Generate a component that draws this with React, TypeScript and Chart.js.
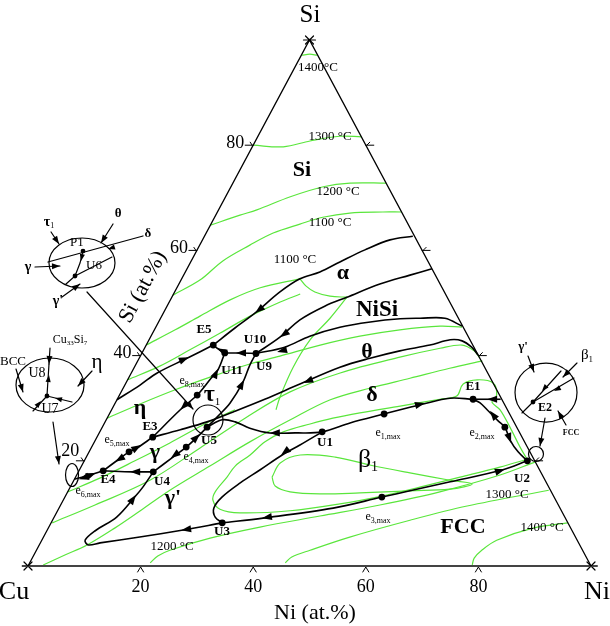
import React, { useEffect, useRef } from "react";
import { Chart, registerables } from "chart.js";

Chart.register(...registerables);

type P = [number, number]; // [Ni at.%, Si at.%]

// ---------- axis ticks ----------
const niTicks = [20, 40, 60, 80];
const siTicks = [20, 40, 60, 80];

// ---------- univariant (black) lines, [Ni, Si] at.% ----------
const alphaLine: P[] = [[37.0, 62.7], [33.3, 62.0], [29.8, 60.1], [26.5, 57.8], [23.9, 55.9], [21.0, 54.6], [18.7, 52.1], [16.3, 48.1], [14.1, 45.2], [11.9, 42.0]];
const niSiAlphaLine: P[] = [[43.5, 56.5], [40.2, 55.3], [35.7, 53.6], [31.1, 51.1], [28.0, 49.4], [24.9, 46.8], [23.0, 43.5], [20.3, 40.4]];
const niSiThetaLine: P[] = [[54.3, 45.6], [50.5, 47.1], [46.1, 47.1], [42.6, 47.0], [37.6, 46.4], [32.7, 45.4], [28.2, 43.7], [24.8, 41.6], [20.3, 40.4]];
const thetaDeltaLine: P[] = [[59.9, 40.1], [58.0, 41.6], [55.7, 42.8], [53.5, 43.0], [50.4, 42.0], [45.6, 40.9], [41.0, 39.5], [36.5, 37.8], [31.0, 34.6], [26.2, 31.7], [21.8, 29.3], [18.1, 27.4], [14.1, 25.9], [9.9, 24.5]];
const deltaBetaLine: P[] = [[18.6, 26.4], [20.6, 27.8], [23.1, 27.4], [26.3, 26.2], [30.3, 25.3], [34.8, 25.3], [39.5, 25.5], [43.6, 27.2], [48.8, 28.9], [54.8, 30.8], [59.0, 31.9], [63.2, 31.7]];
const e1EdgeLine: P[] = [[63.2, 31.7], [66.2, 31.7], [68.1, 31.7]];
const e1U2Line: P[] = [[63.2, 31.7], [64.8, 31.0], [66.7, 29.7], [69.7, 27.6], [71.5, 26.4], [73.6, 24.0], [76.2, 21.7], [78.7, 20.0]];
const u1U3Line: P[] = [[39.5, 25.5], [36.8, 23.0], [34.6, 21.1], [32.1, 18.3], [29.8, 15.8], [27.9, 13.1], [27.5, 11.0], [28.6, 9.3], [30.4, 8.2]];
const e3Line: P[] = [[78.7, 20.0], [75.2, 18.3], [67.0, 16.0], [60.7, 14.3], [56.3, 13.1], [48.7, 11.0], [37.2, 9.1], [30.4, 8.2]];
const u3U4Line: P[] = [[30.4, 8.2], [23.9, 6.8], [17.1, 5.5], [10.6, 4.4], [8.7, 4.0], [7.7, 4.9], [8.6, 6.7], [11.1, 9.3], [12.4, 13.1], [12.9, 15.0], [13.3, 17.9]];
const u4U5Line: P[] = [[13.3, 17.9], [15.4, 20.7], [16.8, 22.6], [17.8, 24.5], [18.6, 26.4]];
const u4E4Line: P[] = [[13.3, 17.9], [9.7, 17.9], [4.3, 18.1]];
const e4EdgeLine: P[] = [[4.3, 18.1], [2.4, 17.3], [0, 16.5]];
const e3E4Line: P[] = [[9.9, 24.5], [8.1, 22.4], [7.1, 21.7], [5.9, 20.2], [4.3, 18.1]];
const e3U11Line: P[] = [[9.9, 24.5], [12.2, 29.7], [13.8, 32.5], [14.6, 35.4], [15.1, 37.3], [14.7, 40.5]];
const u11E5Line: P[] = [[14.7, 40.5], [13.1, 41.3], [11.9, 42.0]];
const u9U11Line: P[] = [[20.3, 40.4], [17.1, 40.5], [14.7, 40.5]];
const u9U5Line: P[] = [[20.3, 40.4], [20.3, 38.2], [20.7, 35.0], [20.4, 31.0], [19.5, 28.5], [18.6, 26.4]];
const edgeE5Line: P[] = [[0, 31.6], [2.7, 34.4], [4.6, 36.7], [8.5, 39.5], [11.9, 42.0]];

// ---------- isotherms (green), [Ni, Si] at.% ----------
const iso1400Top: P[] = [[0.1, 97.1], [1.4, 97.3], [2.8, 97.1]];
const iso1300Top: P[] = [[0, 80.0], [5.5, 79.7], [9.7, 80.8], [14.5, 81.7], [18.4, 81.6]];
const iso1200Top: P[] = [[0, 64.8], [4.3, 66.7], [6.8, 67.7], [11.5, 70.2], [16.4, 72.1], [20.8, 72.8], [27.2, 72.8]];
const iso1100Upper: P[] = [[0, 51.5], [3.4, 54.4], [5.6, 58.0], [8.9, 61.0], [11.9, 63.3], [15.8, 65.0], [19.2, 66.3], [23.6, 67.1], [29.4, 67.3], [32.6, 67.3]];
const iso1100Lower: P[] = [[0, 42.0], [3.7, 44.9], [6.8, 47.5], [10.6, 50.6], [14.8, 52.9], [21.0, 54.6]];
const alphaNiSiGreen: P[] = [[21.0, 54.6], [22.8, 53.2], [24.9, 52.1], [28.0, 51.3], [31.1, 51.1]];
const niSiTauGreen: P[] = [[31.1, 51.1], [30.1, 47.1], [28.6, 43.0], [28.2, 37.8], [28.7, 32.1], [29.2, 29.7]];
const isoD: P[] = [[0, 35.4], [4.4, 38.0], [8.2, 41.1], [12.0, 44.3], [15.7, 47.5], [19.7, 50.2], [22.5, 51.7]];
const isoE: P[] = [[0, 28.1], [4.5, 30.8], [9.4, 33.5], [14.4, 35.9], [20.2, 38.4], [24.8, 39.9], [30.9, 42.0], [37.1, 43.7], [43.6, 44.9], [50.4, 45.6], [54.4, 45.4]];
const isoF: P[] = [[0, 14.1], [4.4, 16.7], [9.0, 20.0], [13.5, 23.4], [17.9, 27.0], [21.9, 29.7]];
const isoG: P[] = [[0.2, 8.2], [6.1, 11.6], [13.5, 16.3], [19.3, 22.4], [24.5, 28.1], [30.0, 33.1], [37.1, 36.7], [46.2, 39.7], [52.5, 41.4], [56.1, 42.0], [58.8, 40.9], [60.5, 39.5]];
const isoH: P[] = [[2.6, 0.2], [5.5, 2.1], [8.5, 4.0], [11.8, 7.2], [14.7, 10.5], [18.0, 14.4], [22.8, 19.0], [27.6, 23.6], [32.7, 27.8], [37.9, 31.6], [43.8, 33.8], [50.0, 35.7], [56.1, 37.6], [61.2, 39.0]];
const betaOuter: P[] = [[78.5, 20.3], [76.1, 22.6], [72.4, 26.4], [69.0, 29.7], [66.8, 31.2], [67.0, 32.5], [65.2, 34.8], [62.1, 35.4], [60.0, 34.6], [60.0, 32.3], [57.3, 31.7], [50.9, 30.4], [44.4, 29.1], [40.1, 28.1], [36.6, 27.0], [32.6, 25.5], [30.3, 23.6], [28.9, 21.1], [27.3, 19.0], [26.9, 16.9], [26.2, 14.1], [26.6, 12.5], [28.7, 10.8], [32.6, 10.1], [41.3, 10.5], [49.5, 11.8], [56.2, 13.3], [62.1, 15.0], [68.3, 16.9], [74.4, 18.8], [78.5, 20.3]];
const betaInner: P[] = [[34.9, 16.9], [35.0, 19.6], [37.8, 21.1], [44.2, 20.7], [51.1, 19.2], [59.0, 17.7], [66.8, 16.3], [71.1, 15.6], [67.6, 14.6], [60.7, 14.3], [52.0, 13.9], [45.0, 13.7], [39.5, 14.1], [36.3, 15.2], [34.9, 16.9]];
const iso1200Low: P[] = [[21.4, 0.6], [22.1, 1.9], [23.7, 3.0], [29.7, 5.3], [37.5, 7.4], [47.1, 9.5], [56.7, 11.6], [66.1, 14.1], [75.2, 17.3], [80.2, 19.8]];
const iso1300Low: P[] = [[45.4, 0.6], [46.0, 1.7], [48.6, 3.0], [54.4, 5.5], [63.5, 8.7], [72.3, 11.4], [85.3, 14.4]];
const iso1400Low: P[] = [[78.8, 0.2], [78.5, 1.5], [79.1, 3.0], [80.8, 4.9], [86.1, 7.2], [91.8, 8.2]];

// ---------- invariant points [Ni, Si] ----------
const invariantPoints: P[] = [[11.9, 42.0], [14.7, 40.5], [20.3, 40.4], [13.8, 32.5], [9.9, 24.5], [18.6, 26.4], [7.1, 21.7], [16.8, 22.6], [4.3, 18.1], [13.3, 17.9], [30.4, 8.2], [39.5, 25.5], [48.8, 28.9], [63.2, 31.7], [71.5, 26.4], [78.7, 20.0], [56.3, 13.1]];

// ---------- arrow heads along lines: [tail, head] in [Ni, Si] ----------
const lineArrows: [P, P][] = [
  [[17.3, 49.6], [16.3, 48.1]], [[24.1, 44.9], [23.0, 43.5]], [[25.9, 41.3], [23.9, 40.7]], [[33.1, 35.7], [31.5, 34.8]],
  [[18.5, 40.5], [16.7, 40.5]], [[14.5, 40.7], [12.9, 41.4]], [[7.5, 39.0], [8.7, 39.7]], [[12.7, 30.8], [12.2, 29.7]],
  [[15.1, 35.9], [15.0, 37.5]], [[20.7, 33.5], [20.7, 35.4]], [[32.5, 25.3], [30.3, 25.3]], [[53.2, 30.4], [55.0, 31.0]],
  [[67.4, 31.7], [65.7, 31.7]], [[69.4, 27.8], [67.3, 29.5]], [[72.7, 25.1], [74.1, 23.4]], [[73.8, 17.7], [75.5, 18.4]],
  [[39.1, 9.5], [37.0, 9.1]], [[26.1, 7.2], [23.8, 6.8]], [[12.1, 11.6], [12.4, 13.5]], [[11.0, 17.9], [9.2, 17.9]],
  [[7.6, 22.1], [8.6, 23.0]], [[6.5, 20.7], [5.6, 19.8]], [[16.0, 21.7], [15.1, 20.5]], [[17.4, 23.8], [18.0, 25.1]],
  [[35.3, 22.4], [34.4, 21.1]], [[2.1, 17.1], [3.2, 17.7]], [[1.8, 16.9], [0.8, 16.5]],
];

// ---------- annotations (chart units: x = Ni + Si/2, y = Si) ----------
type Seg = { t: string; size: number; bold?: boolean; sub?: boolean };
type Lab = { at: [number, number]; segs: Seg[] };
const B = (t: string, size = 13): Seg[] => [{ t, size, bold: true }];
const R = (t: string, size = 13): Seg[] => [{ t, size }];
const eMax = (n: string): Seg[] => [{ t: "e", size: 12 }, { t: n + ",max", size: 8, sub: true }];

const phaseLabels: Lab[] = [
  { at: [48.67, 75.28], segs: B("Si", 22) },
  { at: [55.95, 55.7], segs: B("α", 22) },
  { at: [61.99, 48.67], segs: B("NiSi", 23) },
  { at: [60.21, 40.68], segs: B("θ", 22) },
  { at: [61.1, 32.51], segs: B("δ", 22) },
  { at: [60.39, 20.15], segs: [{ t: "β", size: 26 }, { t: "1", size: 14, sub: true }] },
  { at: [77.26, 7.41], segs: B("FCC", 22) },
  { at: [25.75, 12.93], segs: B("γ'", 22) },
  { at: [22.56, 21.67], segs: B("γ", 22) },
  { at: [19.89, 30.04], segs: B("η", 22) },
  { at: [32.68, 32.51], segs: [{ t: "τ", size: 24, bold: true }, { t: "1", size: 11, sub: true }] },
];
const pointLabels: Lab[] = [
  { at: [31.26, 44.87], segs: B("E5") }, { at: [40.32, 42.96], segs: B("U10") }, { at: [36.23, 37.07], segs: B("U11") },
  { at: [41.92, 37.83], segs: B("U9") }, { at: [21.67, 26.43], segs: B("E3") }, { at: [32.15, 23.76], segs: B("U5") },
  { at: [23.8, 15.97], segs: B("U4") }, { at: [14.21, 16.35], segs: B("E4") }, { at: [34.46, 6.46], segs: B("U3") },
  { at: [52.75, 23.38], segs: B("U1") }, { at: [79.04, 34.03], segs: B("E1") }, { at: [87.74, 16.54], segs: B("U2") },
  { at: [29.13, 35.17], segs: eMax("8") }, { at: [15.81, 23.95], segs: eMax("5") }, { at: [29.84, 20.72], segs: eMax("4") },
  { at: [10.66, 14.26], segs: eMax("6") }, { at: [63.94, 25.28], segs: eMax("1") }, { at: [80.64, 25.28], segs: eMax("2") },
  { at: [62.17, 9.32], segs: eMax("3") },
];
const tempLabels: Lab[] = [
  { at: [51.51, 94.67], segs: R("1400°C") }, { at: [53.64, 81.56], segs: R("1300 °C") }, { at: [55.06, 71.1], segs: R("1200 °C") },
  { at: [53.64, 65.21], segs: R("1100 °C") }, { at: [47.42, 58.17], segs: R("1100 °C") }, { at: [85.08, 13.5], segs: R("1300 °C") },
  { at: [91.3, 7.22], segs: R("1400 °C") }, { at: [25.58, 3.61], segs: R("1200 °C") },
];
const titleLabels: Lab[] = [
  { at: [50.09, 104.75], segs: R("Si", 25) }, { at: [-2.49, -4.94], segs: R("Cu", 26) },
  { at: [101.07, -4.94], segs: R("Ni", 26) }, { at: [50.98, -8.94], segs: R("Ni (at.%)", 22) },
];
const insetLabels: Lab[] = [
  { at: [8.7, 61.41], segs: R("P1", 13) }, { at: [11.72, 57.03], segs: R("U6", 13) }, { at: [0, 56.84], segs: B("γ", 14) },
  { at: [5.33, 50.38], segs: B("γ'", 14) }, { at: [3.73, 65.4], segs: [{ t: "τ", size: 14, bold: true }, { t: "1", size: 8, sub: true }] },
  { at: [15.99, 66.92], segs: B("θ", 13) }, { at: [21.31, 63.12], segs: B("δ", 13) },
  { at: [7.46, 42.96], segs: [{ t: "Cu", size: 12 }, { t: "33", size: 7, sub: true }, { t: "Si", size: 12 }, { t: "7", size: 7, sub: true }] },
  { at: [-2.66, 38.78], segs: R("BCC", 13) }, { at: [12.26, 38.78], segs: R("η", 21) }, { at: [1.6, 36.69], segs: R("U8", 14) },
  { at: [3.91, 29.85], segs: R("U7", 14) },
  { at: [87.92, 41.63], segs: B("γ'", 13) }, { at: [99.29, 40.11], segs: [{ t: "β", size: 15 }, { t: "1", size: 9, sub: true }] },
  { at: [91.83, 30.04], segs: B("E2", 12) }, { at: [96.45, 25.28], segs: B("FCC", 8) },
];
const insetLines: [number, number][][] = [
  [[3.55, 57.79], [20.43, 62.74]], [[9.77, 59.88], [9.24, 57.6], [8.35, 55.13]], [[6.75, 53.61], [8.35, 55.13], [14.92, 58.74]],
  [[3.73, 38.4], [3.37, 32.32]], [[3.37, 32.32], [0.89, 29.47]], [[3.37, 32.32], [7.82, 31.18]],
  [[89.7, 31.18], [94.67, 37.07]], [[89.7, 31.18], [96.98, 35.74]], [[89.7, 31.18], [87.74, 29.09]],
];
const insetPointers: [number, number][][] = [
  [[6.04, 51.14], [9.24, 53.61]], [[1.24, 56.84], [5.68, 57.03]], [[4.09, 63.5], [5.51, 61.22]], [[15.1, 65.02], [12.97, 61.41]],
  [[10.48, 52.09], [29.31, 29.85]],
  [[3.91, 41.44], [3.73, 38.4]], [[-2.13, 37.45], [-0.89, 33.08]], [[11.37, 37.07], [8.88, 34.22]], [[4.44, 27.38], [5.51, 19.39]],
  [[88.81, 39.92], [89.88, 36.88]], [[97.51, 38.59], [95.03, 35.93]], [[95.56, 26.81], [94.14, 29.47]], [[91.83, 28.14], [90.94, 22.81]],
];
const insetHeads: [number, number][][] = [
  [[15.99, 60.84], [14.21, 60.26]], [[9.59, 58.93], [9.41, 57.98]],
  [[3.55, 34.79], [3.73, 36.31]], [[6.22, 31.56], [4.8, 31.94]], [[1.42, 30.23], [2.31, 31.37]],
  [[92.54, 34.79], [91.3, 33.27]], [[95.03, 34.22], [93.43, 33.27]],
];
const insetDots: [number, number][] = [[9.77, 59.88], [8.35, 55.13], [3.37, 32.32], [89.7, 31.18]];
const ellipses: { c: [number, number]; rx: number; ry: number }[] = [
  { c: [9.59, 57.6], rx: 33, ry: 25 }, { c: [3.91, 34.41], rx: 34, ry: 27 }, { c: [92.01, 32.98], rx: 31, ry: 29.5 },
  { c: [31.97, 27.76], rx: 15, ry: 15 }, { c: [90.23, 21.29], rx: 7.5, ry: 7.5 }, { c: [7.82, 17.3], rx: 6.5, ry: 11.5 },
];

const GREEN = "#5ae63c";
const FONT = '"Liberation Serif", "DejaVu Serif", serif';

function fontOf(s: Seg) {
  return `${s.bold ? "bold " : ""}${s.size}px ${FONT}`;
}
function drawRich(ctx: CanvasRenderingContext2D, segs: Seg[], x: number, y: number, align = "center") {
  let w = 0;
  for (const s of segs) { ctx.font = fontOf(s); w += ctx.measureText(s.t).width; }
  let cx = align === "center" ? x - w / 2 : align === "right" ? x - w : x;
  const base = segs[0].size;
  ctx.textAlign = "left";
  ctx.textBaseline = "middle";
  for (const s of segs) {
    ctx.font = fontOf(s);
    ctx.fillText(s.t, cx, y + (s.sub ? base * 0.3 : 0));
    cx += ctx.measureText(s.t).width;
  }
}

const decor = {
  id: "ternaryDecor",
  afterDatasetsDraw(chart: any) {
    const ctx: CanvasRenderingContext2D = chart.ctx;
    const xs = chart.scales.x, ys = chart.scales.y;
    const pc = (x: number, y: number) => [xs.getPixelForValue(x), ys.getPixelForValue(y)];
    const pt = (p: P) => pc(p[0] + p[1] / 2, p[1]);
    ctx.save();
    ctx.fillStyle = "#000";
    ctx.strokeStyle = "#000";
    ctx.lineCap = "round";
    const head = (a: number[], b: number[], len = 10, half = 3.6) => {
      const ang = Math.atan2(b[1] - a[1], b[0] - a[0]);
      const c = Math.cos(ang), s = Math.sin(ang);
      ctx.beginPath();
      ctx.moveTo(b[0], b[1]);
      ctx.lineTo(b[0] - len * c - half * s, b[1] - len * s + half * c);
      ctx.lineTo(b[0] - len * c + half * s, b[1] - len * s - half * c);
      ctx.closePath();
      ctx.fill();
    };
    // vertex crosses
    ctx.lineWidth = 1.2;
    for (const v of [[0, 0], [0, 100], [100, 0]] as P[]) {
      const [x, y] = pt(v);
      ctx.beginPath();
      ctx.moveTo(x - 4, y - 4); ctx.lineTo(x + 4, y + 4);
      ctx.moveTo(x + 4, y - 4); ctx.lineTo(x - 4, y + 4);
      if (v[1] === 100) { ctx.moveTo(x - 6, y); ctx.lineTo(x + 6, y); }
      ctx.stroke();
    }
    // ticks
    ctx.lineWidth = 1;
    for (const t of niTicks) {
      const [x, y] = pt([t, 0]);
      ctx.beginPath(); ctx.moveTo(x - 3, y + 6); ctx.lineTo(x, y + 1); ctx.lineTo(x + 3, y + 6); ctx.stroke();
      drawRich(ctx, R(String(t), 18), x, y + 21);
    }
    for (const t of siTicks) {
      const [x, y] = pt([0, t]);
      ctx.beginPath(); ctx.moveTo(x - 8, y); ctx.lineTo(x, y); ctx.moveTo(x - 3, y - 3); ctx.lineTo(x - 1, y); ctx.stroke();
      const lift = t === 20 ? 10 : 2;
      drawRich(ctx, R(String(t), 18), x - (t === 20 ? 5 : 9), y - lift, "right");
      const [rx, ry] = pt([100 - t, t]);
      ctx.beginPath(); ctx.moveTo(rx, ry); ctx.lineTo(rx + 8, ry); ctx.moveTo(rx + 4, ry - 3); ctx.lineTo(rx + 1, ry); ctx.stroke();
    }
    // arrows on univariant lines
    for (const [a, b] of lineArrows) head(pt(a), pt(b));
    // ellipses / circles
    ctx.lineWidth = 1.2;
    for (const e of ellipses) {
      const [x, y] = pc(e.c[0], e.c[1]);
      ctx.beginPath(); ctx.ellipse(x, y, e.rx, e.ry, 0, 0, Math.PI * 2); ctx.stroke();
    }
    // inset lines
    for (const l of insetLines) {
      ctx.beginPath();
      l.forEach((q, i) => { const [x, y] = pc(q[0], q[1]); if (i) ctx.lineTo(x, y); else ctx.moveTo(x, y); });
      ctx.stroke();
    }
    for (const l of insetPointers) {
      const a = pc(l[0][0], l[0][1]), b = pc(l[1][0], l[1][1]);
      ctx.beginPath(); ctx.moveTo(a[0], a[1]); ctx.lineTo(b[0], b[1]); ctx.stroke();
      head(a, b, 8, 3);
    }
    for (const l of insetHeads) head(pc(l[0][0], l[0][1]), pc(l[1][0], l[1][1]), 7, 2.6);
    for (const d of insetDots) {
      const [x, y] = pc(d[0], d[1]);
      ctx.beginPath(); ctx.arc(x, y, 2.4, 0, Math.PI * 2); ctx.fill();
    }
    // labels
    for (const group of [phaseLabels, pointLabels, tempLabels, titleLabels, insetLabels]) {
      for (const l of group) {
        const [x, y] = pc(l.at[0], l.at[1]);
        drawRich(ctx, l.segs, x, y);
      }
    }
    // rotated axis title along the Cu-Si edge
    {
      const [x, y] = pc(20.43, 53.04);
      const [x0, y0] = pt([0, 0]);
      const [x1, y1] = pt([0, 100]);
      ctx.save();
      ctx.translate(x, y);
      ctx.rotate(Math.atan2(y1 - y0, x1 - x0));
      drawRich(ctx, R("Si (at.%)", 22), 0, 0);
      ctx.restore();
    }
    ctx.restore();
  },
};

export default function App() {
  const ref = useRef<HTMLCanvasElement>(null);
  useEffect(() => {
    const canvas = ref.current!;
    const T = (p: P) => ({ x: p[0] + p[1] / 2, y: p[1] });
    const mk = (pts: P[], color: string, width: number, order: number, tension = 0.35) => ({
      data: pts.map(T), showLine: true, borderColor: color, backgroundColor: color, borderWidth: width,
      pointRadius: 0, pointHoverRadius: 0, tension, fill: false, clip: false, order,
    });
    const greens = [iso1400Top, iso1300Top, iso1200Top, iso1100Upper, iso1100Lower, alphaNiSiGreen, niSiTauGreen, isoD, isoE, isoF, isoG, isoH, betaOuter, betaInner, iso1200Low, iso1300Low, iso1400Low];
    const blacks = [alphaLine, niSiAlphaLine, niSiThetaLine, thetaDeltaLine, deltaBetaLine, e1EdgeLine, e1U2Line, u1U3Line, e3Line, u3U4Line, u4U5Line, u4E4Line, e4EdgeLine, e3E4Line, e3U11Line, u11E5Line, u9U11Line, u9U5Line, edgeE5Line];
    const datasets: any[] = [
      { data: invariantPoints.map(T), showLine: false, pointRadius: 3.4, pointBackgroundColor: "#000", pointBorderWidth: 0, clip: false, order: 0 },
      mk([[0, 0], [0, 100], [100, 0]], "#000", 1.3, 1, 0),
      mk([[-1.1, 0], [101.2, 0]], "#444", 2.2, 1, 0),
      ...blacks.map((b) => mk(b, "#000", 1.6, 2)),
      ...greens.map((g) => mk(g, GREEN, 1.2, 3)),
    ];
    const chart = new Chart(canvas, {
      type: "scatter",
      data: { datasets },
      options: {
        responsive: false,
        animation: false,
        devicePixelRatio: 1,
        events: [],
        layout: { padding: { left: 28, right: 19, top: 40, bottom: 60 } },
        scales: {
          x: { type: "linear", min: 0, max: 100, display: false },
          y: { type: "linear", min: 0, max: 100, display: false },
        },
        plugins: { legend: { display: false }, tooltip: { enabled: false } },
      } as any,
      plugins: [decor as any],
    });
    return () => chart.destroy();
  }, []);
  return (
    <div style={{ position: "absolute", left: 0, top: 0, width: 610, height: 626, background: "#fff" }}>
      <canvas ref={ref} width={610} height={626} style={{ display: "block" }} />
    </div>
  );
}
